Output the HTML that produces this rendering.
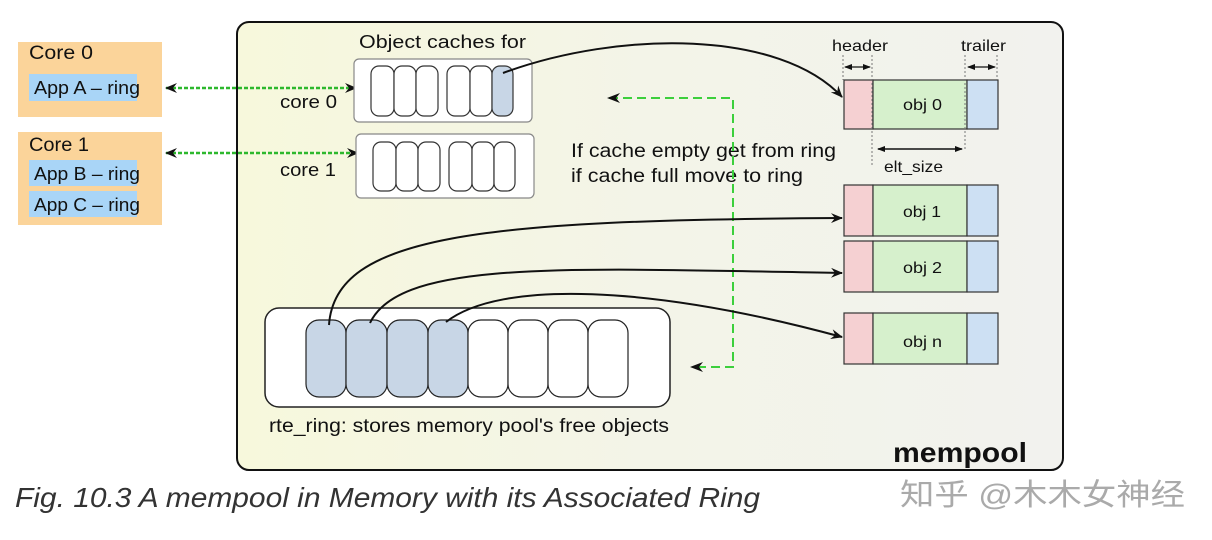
<!DOCTYPE html>
<html><head><meta charset="utf-8"><style>
html,body{margin:0;padding:0;background:#fff;}
svg{display:block;}
text{font-family:"Liberation Sans",sans-serif;}
</style></head><body>
<svg width="1212" height="540" viewBox="0 0 1212 540" xmlns="http://www.w3.org/2000/svg">
<defs>
<linearGradient id="bg" x1="0" y1="0" x2="1" y2="0">
<stop offset="0" stop-color="#f7f8dc"/><stop offset="0.5" stop-color="#f3f4e8"/><stop offset="1" stop-color="#f2f2ee"/>
</linearGradient>
<marker id="ah" viewBox="0 0 12 10" refX="11" refY="5" markerWidth="12" markerHeight="10" markerUnits="userSpaceOnUse" orient="auto-start-reverse">
<path d="M0,0 L12,5 L0,10 L4,5 Z" fill="#111"/>
</marker>
<marker id="sa" viewBox="0 0 8 8" refX="7" refY="4" markerWidth="8" markerHeight="8" markerUnits="userSpaceOnUse" orient="auto-start-reverse">
<path d="M0,1 L8,4 L0,7 Z" fill="#111"/>
</marker>
</defs>
<rect width="1212" height="540" fill="#fff"/>
<rect x="237" y="22" width="826" height="448" rx="12" fill="url(#bg)" stroke="#111" stroke-width="2"/>

<rect x="18" y="42" width="144" height="75" fill="#fbd49a"/>
<text x="29" y="59" font-size="19" fill="#111" textLength="64" lengthAdjust="spacingAndGlyphs">Core 0</text>
<rect x="29" y="74" width="108" height="27" fill="#a9d5f7"/>
<text x="34" y="94" font-size="18" fill="#111" textLength="106" lengthAdjust="spacingAndGlyphs">App A – ring</text>
<rect x="18" y="132" width="144" height="93" fill="#fbd49a"/>
<text x="29" y="151" font-size="19" fill="#111" textLength="60" lengthAdjust="spacingAndGlyphs">Core 1</text>
<rect x="29" y="160" width="108" height="26" fill="#a9d5f7"/>
<text x="34" y="180" font-size="18" fill="#111" textLength="106" lengthAdjust="spacingAndGlyphs">App B – ring</text>
<rect x="29" y="191" width="108" height="26" fill="#a9d5f7"/>
<text x="34" y="211" font-size="18" fill="#111" textLength="106" lengthAdjust="spacingAndGlyphs">App C – ring</text>

<line x1="166" y1="88" x2="356" y2="88" stroke="#2db82d" stroke-width="2.5" stroke-dasharray="4,2" marker-start="url(#ah)" marker-end="url(#ah)"/>
<line x1="166" y1="153" x2="358" y2="153" stroke="#2db82d" stroke-width="2.5" stroke-dasharray="4,2" marker-start="url(#ah)" marker-end="url(#ah)"/>

<text x="359" y="48" font-size="18" fill="#111" textLength="167" lengthAdjust="spacingAndGlyphs">Object caches for</text>
<text x="280" y="108" font-size="18" fill="#111" textLength="57" lengthAdjust="spacingAndGlyphs">core 0</text>
<text x="280" y="176" font-size="18" fill="#111" textLength="56" lengthAdjust="spacingAndGlyphs">core 1</text>
<rect x="354" y="59" width="178" height="63" rx="5" fill="#fff" stroke="#888" stroke-width="1.2"/>
<g stroke="#333" stroke-width="1.2" fill="#fff">
<rect x="371" y="66" width="23" height="50" rx="8"/><rect x="394" y="66" width="22" height="50" rx="8"/><rect x="416" y="66" width="22" height="50" rx="8"/>
<rect x="447" y="66" width="23" height="50" rx="8"/><rect x="470" y="66" width="22" height="50" rx="8"/><rect x="492" y="66" width="21" height="50" rx="8" fill="#c8d6e6"/>
</g>
<rect x="356" y="134" width="178" height="64" rx="5" fill="#fff" stroke="#888" stroke-width="1.2"/>
<g stroke="#333" stroke-width="1.2" fill="#fff">
<rect x="373" y="142" width="23" height="49" rx="8"/><rect x="396" y="142" width="22" height="49" rx="8"/><rect x="418" y="142" width="22" height="49" rx="8"/>
<rect x="449" y="142" width="23" height="49" rx="8"/><rect x="472" y="142" width="22" height="49" rx="8"/><rect x="494" y="142" width="21" height="49" rx="8"/>
</g>

<text x="571" y="157" font-size="19" fill="#111" textLength="265" lengthAdjust="spacingAndGlyphs">If cache empty get from ring</text>
<text x="571" y="182" font-size="19" fill="#111" textLength="232" lengthAdjust="spacingAndGlyphs">if cache full move to ring</text>

<polyline points="609,98 733,98 733,367 692,367" fill="none" stroke="#3ccf3c" stroke-width="2" stroke-dasharray="9,5"/>
<path d="M607,98 L620,93 L616,98 L620,103 Z" fill="#111"/>
<path d="M690,367 L703,362 L699,367 L703,372 Z" fill="#111"/>

<g stroke="#333" stroke-width="1.2">
<rect x="844" y="80" width="29" height="49" fill="#f5d0d2"/><rect x="873" y="80" width="94" height="49" fill="#d6f0cc"/><rect x="967" y="80" width="31" height="49" fill="#cde0f3"/>
<rect x="844" y="185" width="29" height="51" fill="#f5d0d2"/><rect x="873" y="185" width="94" height="51" fill="#d6f0cc"/><rect x="967" y="185" width="31" height="51" fill="#cde0f3"/>
<rect x="844" y="241" width="29" height="51" fill="#f5d0d2"/><rect x="873" y="241" width="94" height="51" fill="#d6f0cc"/><rect x="967" y="241" width="31" height="51" fill="#cde0f3"/>
<rect x="844" y="313" width="29" height="51" fill="#f5d0d2"/><rect x="873" y="313" width="94" height="51" fill="#d6f0cc"/><rect x="967" y="313" width="31" height="51" fill="#cde0f3"/>
</g>
<text x="903" y="110" font-size="16" fill="#111" textLength="39" lengthAdjust="spacingAndGlyphs">obj 0</text>
<text x="903" y="217" font-size="16" fill="#111" textLength="38" lengthAdjust="spacingAndGlyphs">obj 1</text>
<text x="903" y="273" font-size="16" fill="#111" textLength="39" lengthAdjust="spacingAndGlyphs">obj 2</text>
<text x="903" y="347" font-size="16" fill="#111" textLength="39" lengthAdjust="spacingAndGlyphs">obj n</text>
<text x="832" y="51" font-size="16" fill="#111" textLength="56" lengthAdjust="spacingAndGlyphs">header</text>
<text x="961" y="51" font-size="16" fill="#111" textLength="45" lengthAdjust="spacingAndGlyphs">trailer</text>
<text x="884" y="172" font-size="16" fill="#111" textLength="59" lengthAdjust="spacingAndGlyphs">elt_size</text>
<g stroke="#777" stroke-width="1" stroke-dasharray="2,2">
<line x1="843" y1="55" x2="843" y2="80"/><line x1="872" y1="55" x2="872" y2="165"/>
<line x1="965" y1="55" x2="965" y2="150"/><line x1="997" y1="55" x2="997" y2="80"/>
</g>
<line x1="845" y1="67" x2="870" y2="67" stroke="#111" stroke-width="1.2" marker-start="url(#sa)" marker-end="url(#sa)"/>
<line x1="968" y1="67" x2="995" y2="67" stroke="#111" stroke-width="1.2" marker-start="url(#sa)" marker-end="url(#sa)"/>
<line x1="878" y1="149" x2="962" y2="149" stroke="#111" stroke-width="1.5" marker-start="url(#sa)" marker-end="url(#sa)"/>

<rect x="265" y="308" width="405" height="99" rx="14" fill="#fff" stroke="#222" stroke-width="1.5"/>
<g stroke="#222" stroke-width="1.2">
<rect x="306" y="320" width="40" height="77" rx="13" fill="#c8d6e6"/>
<rect x="346" y="320" width="41" height="77" rx="13" fill="#c8d6e6"/>
<rect x="387" y="320" width="41" height="77" rx="13" fill="#c8d6e6"/>
<rect x="428" y="320" width="40" height="77" rx="13" fill="#c8d6e6"/>
<rect x="468" y="320" width="40" height="77" rx="13" fill="#fff"/>
<rect x="508" y="320" width="40" height="77" rx="13" fill="#fff"/>
<rect x="548" y="320" width="40" height="77" rx="13" fill="#fff"/>
<rect x="588" y="320" width="40" height="77" rx="13" fill="#fff"/>
</g>
<text x="269" y="432" font-size="19" fill="#111" textLength="400" lengthAdjust="spacingAndGlyphs">rte_ring: stores memory pool's free objects</text>

<g fill="none" stroke="#111" stroke-width="2">
<path d="M503,73 C620,30 780,30 842,97" marker-end="url(#ah)"/>
<path d="M329,325 C335,235 480,220 842,218" marker-end="url(#ah)"/>
<path d="M370,323 C400,260 560,268 842,273" marker-end="url(#ah)"/>
<path d="M446,322 C500,280 650,285 842,337" marker-end="url(#ah)"/>
</g>

<text x="893" y="462" font-size="28" font-weight="bold" fill="#111" textLength="134" lengthAdjust="spacingAndGlyphs">mempool</text>

<text x="15" y="507" font-size="28" font-style="italic" fill="#333" textLength="745" lengthAdjust="spacingAndGlyphs">Fig. 10.3 A mempool in Memory with its Associated Ring</text>
<text x="900" y="505" font-size="30" fill="#aaa" font-family="'Liberation Sans','Noto Sans CJK SC',sans-serif" textLength="285" lengthAdjust="spacingAndGlyphs">知乎 @木木女神经</text>
</svg>
</body></html>
